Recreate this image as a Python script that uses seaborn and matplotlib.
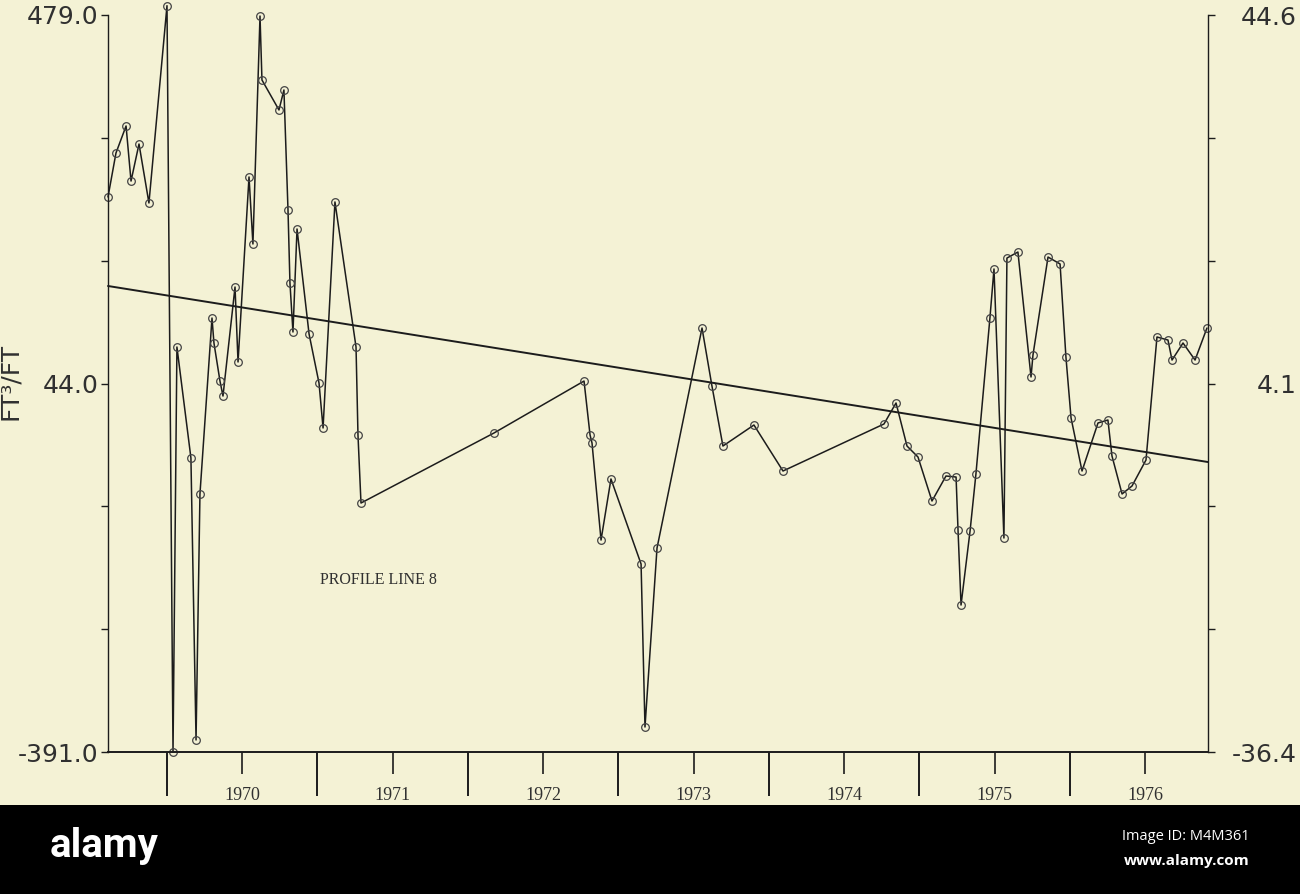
import pandas as pd
import matplotlib
matplotlib.use('Agg')
import matplotlib.pyplot as plt
from matplotlib.patches import Rectangle
import seaborn as sns

# profile line 8 volume change
years = [1969.608, 1969.661, 1969.728, 1969.761, 1969.814, 1969.880,
         1970.000, 1970.040, 1970.066, 1970.159, 1970.193, 1970.219, 1970.299,
         1970.312, 1970.352, 1970.372, 1970.452, 1970.472, 1970.545, 1970.571,
         1970.618, 1970.631, 1970.744, 1970.777, 1970.804, 1970.817, 1970.837,
         1970.864, 1970.944, 1971.010, 1971.037, 1971.116, 1971.256, 1971.269,
         1971.289, 1972.173, 1972.771, 1972.811, 1972.824, 1972.884, 1972.950,
         1973.150, 1973.176, 1973.256, 1973.555, 1973.621, 1973.694, 1973.900,
         1974.093, 1974.764, 1974.844, 1974.917, 1974.990, 1975.083, 1975.176,
         1975.243, 1975.256, 1975.276, 1975.336, 1975.375, 1975.468, 1975.495,
         1975.561, 1975.581, 1975.654, 1975.741, 1975.754, 1975.854, 1975.934,
         1975.973, 1976.007, 1976.080, 1976.186, 1976.252, 1976.279, 1976.346,
         1976.412, 1976.505, 1976.578, 1976.651, 1976.678, 1976.751, 1976.831,
         1976.910]
volume = [264.2, 316.1, 348.0, 283.0, 326.7, 257.1,
          490.0, -391.0, 87.1, -43.9, -376.8, -86.4, 121.3,
          91.8, 46.9, 29.2, 157.9, 69.4, 287.8, 208.7,
          477.8, 402.3, 366.9, 390.5, 248.8, 162.6, 104.8,
          226.4, 102.4, 44.6, -8.5, 258.3, 87.1, -16.8,
          -97.1, -14.4, 46.9, -16.8, -26.2, -140.8, -68.7,
          -169.1, -361.5, -150.2, 109.5, 41.0, -29.8, -5.0,
          -59.3, -3.8, 21.0, -29.8, -42.8, -94.7, -65.2,
          -66.4, -128.9, -217.5, -130.1, -62.8, 121.3, 179.2,
          -138.4, 192.1, 199.2, 51.7, 77.6, 193.3, 185.1,
          75.3, 3.3, -59.3, -2.6, 0.9, -41.6, -86.4,
          -77.0, -46.3, 98.9, 95.3, 71.7, 91.8, 71.7,
          109.5]

# fitted trend line end points
trend_years = [1969.608, 1976.917]
trend_values = [159.1, -48.7]

left_ticks = [479, 334, 189, 44, -101, -246, -391]
left_labels = ['479.0', '', '', '44.0', '', '', '-391.0']
right_ticks = [44.6, 31.1, 17.6, 4.1, -9.4, -22.9, -36.4]
right_labels = ['44.6', '', '', '4.1', '', '', '-36.4']
year_bounds = [1970, 1971, 1972, 1973, 1974, 1975, 1976]
year_mids = [1970.5, 1971.5, 1972.5, 1973.5, 1974.5, 1975.5, 1976.5]
year_labels = ['1970', '1971', '1972', '1973', '1974', '1975', '1976']

paper = '#f4f2d5'
ink = '#1c1c1c'
text_ink = '#303030'

sns.set_theme(style='ticks')
plt.rcParams['font.family'] = 'DejaVu Sans'

fig = plt.figure(figsize=(13, 8.94), dpi=100)
fig.patch.set_facecolor(paper)
ax = fig.add_axes([108 / 1300, 142 / 894, 1100 / 1300, 737 / 894])
ax.set_facecolor(paper)

df = pd.DataFrame({'year': years, 'volume': volume})
sns.lineplot(data=df, x='year', y='volume', sort=False, estimator=None,
             color=ink, lw=1.1, marker='o', markersize=5.5,
             markerfacecolor='none', markeredgecolor='#444444',
             markeredgewidth=0.9, ax=ax)
sns.lineplot(x=trend_years, y=trend_values, color=ink, lw=1.4, ax=ax)
for ln in ax.lines:
    ln.set_clip_on(False)

ax.set_xlim(1969.608, 1976.917)
ax.set_ylim(-391, 479)
ax.set_xlabel('')
ax.set_ylabel('')

ax.set_xticks(year_bounds)
ax.set_xticklabels([''] * len(year_bounds))
ax.set_xticks(year_mids, minor=True)
ax.set_xticklabels(year_labels, minor=True, fontfamily='Liberation Serif',
                   fontsize=13)
ax.tick_params(axis='x', which='major', length=32, width=1.4, color=ink,
               direction='out')
ax.tick_params(axis='x', which='minor', length=16, width=1.2, color=ink,
               direction='out', pad=9, labelcolor=text_ink)

ax.set_yticks(left_ticks)
ax.set_yticklabels(left_labels, fontsize=18, color=text_ink)
ax.tick_params(axis='y', length=5, width=1, color=ink, direction='out', pad=2)

for side in ['top', 'right']:
    ax.spines[side].set_visible(False)
ax.spines['left'].set_color(ink)
ax.spines['left'].set_linewidth(1.0)
ax.spines['bottom'].set_color(ink)
ax.spines['bottom'].set_linewidth(1.4)

ax2 = ax.twinx()
ax2.set_ylim(-36.4, 44.6)
ax2.set_yticks(right_ticks)
ax2.set_yticklabels(right_labels, fontsize=18, color=text_ink, ha='right')
ax2.tick_params(axis='y', length=5, width=1, color=ink, direction='out',
                pad=59)
for side in ['left', 'top', 'bottom']:
    ax2.spines[side].set_visible(False)
ax2.spines['right'].set_color(ink)
ax2.spines['right'].set_linewidth(1.0)
ax2.grid(False)

ax.text(0.2455, 0.2334, 'PROFILE LINE 8', transform=ax.transAxes,
        ha='center', va='center', fontfamily='Liberation Serif',
        fontsize=11.5, color=text_ink)
fig.text(10 / 1300, 1 - 381 / 894, 'FT³/FT', rotation=90, ha='center',
         va='center', fontsize=18, color=text_ink)

# black stock-photo band at the bottom
fig.add_artist(Rectangle((0, 0), 1, 89 / 894, transform=fig.transFigure,
                         facecolor='black', edgecolor='none', zorder=10))
fig.text(50 / 1300, 1 - 846 / 894, 'alamy', color='white', fontsize=29,
         fontweight='bold', fontfamily='Roboto', ha='left', va='center',
         zorder=11)
fig.text(1250 / 1300, 1 - 837 / 894, 'Image ID: M4M361', color='white',
         fontsize=10.5, fontfamily='Open Sans', ha='right', va='center',
         zorder=11)
fig.text(1250 / 1300, 1 - 861 / 894, 'www.alamy.com', color='white',
         fontsize=11, fontweight='bold', fontfamily='Open Sans', ha='right',
         va='center', zorder=11)

fig.savefig('out.png', dpi=100, facecolor=paper)
